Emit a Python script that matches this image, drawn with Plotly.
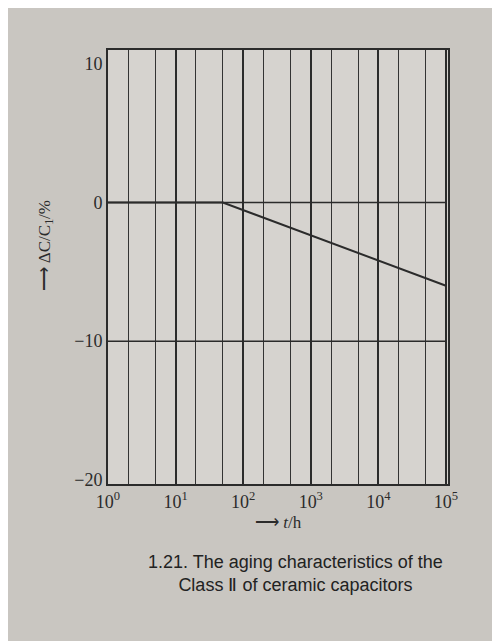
import plotly.graph_objects as go

# aging curve of Class II ceramic capacitors
hours = [1, 50, 100000]
delta_c = [0, 0, -6]

ref_hours = [1, 100000]
zero_line = [0, 0]
minus_ten = [-10, -10]

x_tickvals = [1, 10, 100, 1000, 10000, 100000]
x_ticktext = ["10<sup>0</sup>", "10<sup>1</sup>", "10<sup>2</sup>", "10<sup>3</sup>", "10<sup>4</sup>", "10<sup>5</sup>"]
y_tickvals = [10, 0, -10, -20]

paper = "#c9c6c1"
ink = "#2b2b2b"

fig = go.Figure()
for ys in (zero_line, minus_ten):
    fig.add_trace(go.Scatter(x=ref_hours, y=ys, mode="lines",
                             line=dict(color=ink, width=1.5), showlegend=False))
fig.add_trace(go.Scatter(x=hours, y=delta_c, mode="lines",
                         line=dict(color=ink, width=2), showlegend=False))

fig.update_layout(
    width=500, height=641,
    paper_bgcolor=paper, plot_bgcolor="#d6d3cf",
    margin=dict(l=100, r=60, t=42, b=165),
    font=dict(family="Liberation Serif", size=18, color=ink),
    xaxis=dict(type="log", range=[0, 5.03], tickvals=x_tickvals, ticktext=x_ticktext,
               showgrid=True, gridcolor=ink, gridwidth=1.5,
               minor=dict(showgrid=True, gridcolor="#333", gridwidth=1.3, ticks=""),
               showline=True, linecolor=ink, linewidth=2, mirror=True, zeroline=False),
    yaxis=dict(range=[-20.3, 11], tickvals=y_tickvals, showgrid=False,
               showline=True, linecolor=ink, linewidth=2, mirror=True, zeroline=False),
    annotations=[
        dict(text="⟶ <i>t</i>/h", x=0.5, y=-0.115, xref="paper", yref="paper",
             showarrow=False, font=dict(size=17)),
        dict(text="⟶ ΔC/C<sub>1</sub>/%", x=-0.22, y=0.55, xref="paper", yref="paper",
             textangle=-90, showarrow=False, font=dict(size=17)),
        dict(text="1.21. The aging characteristics of the<br>Class Ⅱ of ceramic capacitors",
             x=0.55, y=-0.26, xref="paper", yref="paper", showarrow=False,
             font=dict(family="Liberation Sans", size=18, color="#222")),
    ],
)

fig.write_html("out.html")
